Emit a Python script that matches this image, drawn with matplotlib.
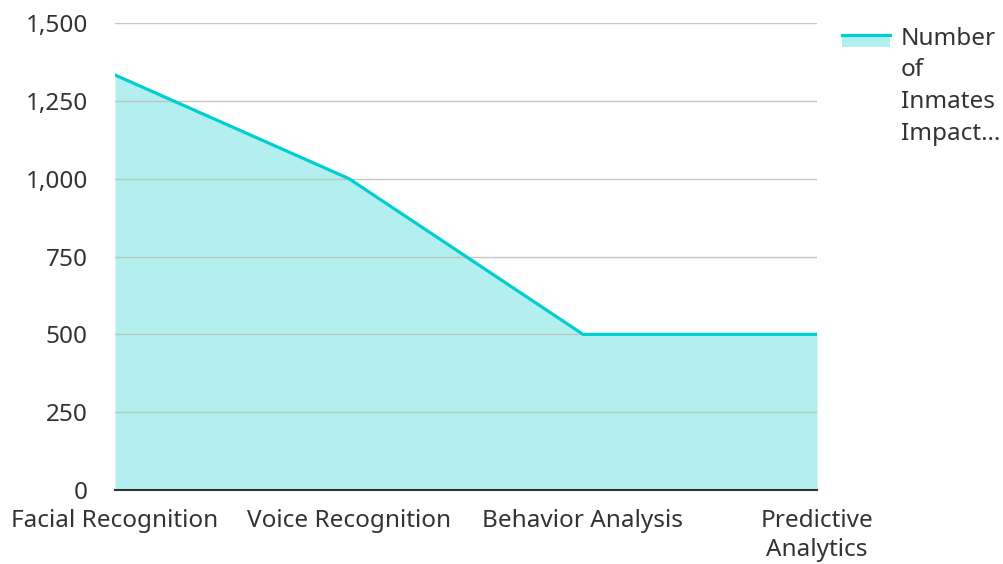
import matplotlib
matplotlib.use("Agg")
import matplotlib.pyplot as plt
from matplotlib.patches import Rectangle
from matplotlib.lines import Line2D
from matplotlib.ticker import FuncFormatter

categories = ["Facial Recognition", "Voice Recognition", "Behavior Analysis", "Predictive\nAnalytics"]
values = [1333, 1000, 500, 500]
yticks = [0, 250, 500, 750, 1000, 1250, 1500]
series_name = "Number\nof\nInmates\nImpact\u2026"

plt.rcParams['font.family'] = ['Noto Sans', 'DejaVu Sans']
W, H = 1004, 564
fig = plt.figure(figsize=(W / 100, H / 100), dpi=100)
ax = fig.add_axes([115 / W, 1 - 490 / H, (817 - 115) / W, (490 - 23) / H])

line_c = "#00CFD1"
fill_c = "#B2EFEE"
fs = 17.5
x = list(range(len(categories)))
ax.fill_between(x, values, 0, color=fill_c, lw=0, zorder=1)
ax.plot(x, values, color=line_c, lw=2.3, zorder=3, solid_joinstyle='miter')

ax.set_xlim(0, len(categories) - 1)
ax.set_ylim(0, 1500)
ax.set_yticks(yticks)
ax.yaxis.set_major_formatter(FuncFormatter(lambda v, p: f"{int(v):,}"))
ax.set_xticks(x)
ax.set_xticklabels(categories)
ax.grid(axis='y', color='#C0C0C0', lw=1, zorder=2, alpha=0.9)
ax.set_axisbelow(False)
for s in ['top', 'right', 'left']:
    ax.spines[s].set_visible(False)
ax.spines['bottom'].set_color('#333333')
ax.spines['bottom'].set_linewidth(1.5)
ax.spines['bottom'].set_zorder(4)
ax.tick_params(axis='both', length=0, labelsize=fs, colors='#333333')
ax.tick_params(axis='y', pad=19.5)
ax.tick_params(axis='x', pad=14)
for lbl in ax.get_xticklabels():
    lbl.set_linespacing(1.25)
for gl in ax.get_ygridlines():
    gl.set_zorder(2)

# legend
fig.patches.append(Rectangle((842 / W, 1 - 47 / H), 48 / W, 13 / H, transform=fig.transFigure,
                             facecolor=fill_c, edgecolor='none'))
fig.lines.append(Line2D([842 / W, 890 / W], [1 - 35 / H, 1 - 35 / H], transform=fig.transFigure,
                        color=line_c, lw=2.3))
for i, t in enumerate(series_name.split("\n")):
    fig.text(901 / W, 1 - (45 + 31.5 * i) / H, t, fontsize=fs, color='#333333',
             va='baseline', ha='left')

fig.savefig("out.png", dpi=100)
